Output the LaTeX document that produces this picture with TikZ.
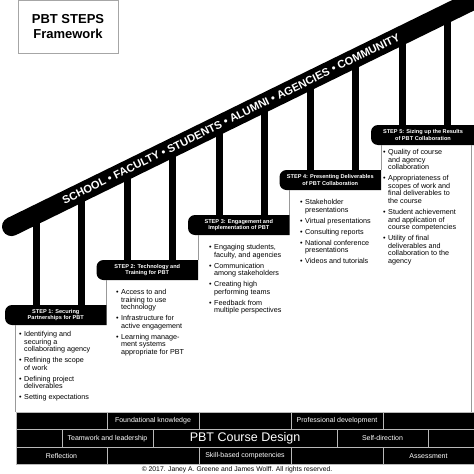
\documentclass[tikz,border=0pt]{standalone}
\usepackage{fontspec}
\setmainfont{Liberation Sans}

\begin{document}
\begin{tikzpicture}[x=1pt,y=-1pt]
    \tikzset{RailStyle/.style = {line width=19pt, line cap=round},
        PostStyle/.style = {fill=black},
        HeadStyle/.style = {fill=black, rounded corners=7pt},
        StepStyle/.style = {text=white, align=center, inner sep=0pt,
            font=\bfseries\fontsize{5.6}{6.6}\selectfont},
        ListStyle/.style = {anchor=north west, inner sep=0pt,
            font=\fontsize{7.2}{7.6}\selectfont},
        BoxStyle/.style = {draw=gray!80, line width=0.8pt},
        CellStyle/.style = {draw=gray!55, fill=black, text=white,
            line width=0.7pt, minimum height=17.5pt, inner sep=0pt,
            font=\fontsize{7}{8}\selectfont}}
    \useasboundingbox (0,0) rectangle (474,474);
    % title
    \node[draw=gray!70, minimum width=100pt, minimum height=53pt, align=center,
        font=\bfseries\fontsize{13}{15}\selectfont] (T) at (68,26.5) {PBT STEPS\\Framework};
    % posts
    \fill[PostStyle] (32.5,214) rectangle (39.5,305);
    \fill[PostStyle] (77.5,192) rectangle (84.5,305);
    \fill[PostStyle] (124,169) rectangle (131,260);
    \fill[PostStyle] (169,147) rectangle (176,260);
    \fill[PostStyle] (215.5,124) rectangle (222.5,215);
    \fill[PostStyle] (260.5,102) rectangle (267.5,215);
    \fill[PostStyle] (307,79) rectangle (314,170);
    \fill[PostStyle] (352,57) rectangle (359,170);
    \fill[PostStyle] (398.5,35) rectangle (405.5,125);
    \fill[PostStyle] (443.5,13) rectangle (450.5,125);
    % rail
    \draw[RailStyle] (11.5,226.6) -- (500,-12.8);
    \node[text=white, rotate=26.1, font=\bfseries\fontsize{11}{12}\selectfont] (R) at (231,119)
        {SCHOOL \textbullet{} FACULTY \textbullet{} STUDENTS \textbullet{} ALUMNI \textbullet{} AGENCIES \textbullet{} COMMUNITY};
    % step headers
    \fill[HeadStyle] (106.5,305) -- (5,305) -- (5,325) -- (106.5,325);
    \node[StepStyle] (S1) at (55.75,315) {STEP 1: Securing\\Partnerships for PBT};
    \fill[HeadStyle] (198,260) -- (96.5,260) -- (96.5,280) -- (198,280);
    \node[StepStyle] (S2) at (147.25,270) {STEP 2: Technology and\\Training for PBT};
    \fill[HeadStyle] (289.5,215) -- (188,215) -- (188,235) -- (289.5,235);
    \node[StepStyle] (S3) at (238.75,225) {STEP 3: Engagement and\\Implementation of PBT};
    \fill[HeadStyle] (381,170) -- (279.5,170) -- (279.5,190) -- (381,190);
    \node[StepStyle] (S4) at (330.25,180) {STEP 4: Presenting Deliverables\\of PBT Collaboration};
    \fill[HeadStyle] (476,125) -- (371,125) -- (371,145) -- (476,145);
    \node[StepStyle] (S5) at (423,135) {STEP 5: Sizing up the Results\\of PBT Collaboration};
    % box lines
    \draw[BoxStyle] (15,325) -- (15,412);
    \draw[BoxStyle] (106.5,280) -- (106.5,305);
    \draw[BoxStyle] (198,235) -- (198,260);
    \draw[BoxStyle] (289.5,190) -- (289.5,215);
    \draw[BoxStyle] (381,145) -- (381,170);
    \draw[BoxStyle] (471,145) -- (471,412);
    % lists
    \node[ListStyle] (L1) at (19,331) {\begin{tabular}{@{}l@{\hspace{2.5pt}}l@{}}
        \textbullet & Identifying and\\ & securing a\\ & collaborating agency\\[3.4pt]
        \textbullet & Refining the scope\\ & of work\\[3.4pt]
        \textbullet & Defining project\\ & deliverables\\[3.4pt]
        \textbullet & Setting expectations
        \end{tabular}};
    \node[ListStyle] (L2) at (116,289) {\begin{tabular}{@{}l@{\hspace{2.5pt}}l@{}}
        \textbullet & Access to and\\ & training to use\\ & technology\\[3.4pt]
        \textbullet & Infrastructure for\\ & active engagement\\[3.4pt]
        \textbullet & Learning manage-\\ & ment systems\\ & appropriate for PBT
        \end{tabular}};
    \node[ListStyle] (L3) at (209,244) {\begin{tabular}{@{}l@{\hspace{2.5pt}}l@{}}
        \textbullet & Engaging students,\\ & faculty, and agencies\\[3.4pt]
        \textbullet & Communication\\ & among stakeholders\\[3.4pt]
        \textbullet & Creating high\\ & performing teams\\[3.4pt]
        \textbullet & Feedback from\\ & multiple perspectives
        \end{tabular}};
    \node[ListStyle] (L4) at (300,199) {\begin{tabular}{@{}l@{\hspace{2.5pt}}l@{}}
        \textbullet & Stakeholder\\ & presentations\\[3.4pt]
        \textbullet & Virtual presentations\\[3.4pt]
        \textbullet & Consulting reports\\[3.4pt]
        \textbullet & National conference\\ & presentations\\[3.4pt]
        \textbullet & Videos and tutorials
        \end{tabular}};
    \node[ListStyle] (L5) at (383,149) {\begin{tabular}{@{}l@{\hspace{2.5pt}}l@{}}
        \textbullet & Quality of course\\ & and agency\\ & collaboration\\[3.4pt]
        \textbullet & Appropriateness of\\ & scopes of work and\\ & final deliverables to\\ & the course\\[3.4pt]
        \textbullet & Student achievement\\ & and application of\\ & course competencies\\[3.4pt]
        \textbullet & Utility of final\\ & deliverables and\\ & collaboration to the\\ & agency
        \end{tabular}};
    % course design strip
    \node[CellStyle, minimum width=91pt] (C11) at (61.5,420.75) {};
    \node[CellStyle, minimum width=92pt] (C12) at (153,420.75) {Foundational knowledge};
    \node[CellStyle, minimum width=92pt] (C13) at (245,420.75) {};
    \node[CellStyle, minimum width=92pt] (C14) at (337,420.75) {Professional development};
    \node[CellStyle, minimum width=91pt] (C15) at (428.5,420.75) {};
    \node[CellStyle, minimum width=46pt] (C21) at (39,438.25) {};
    \node[CellStyle, minimum width=91pt] (C22) at (107.5,438.25) {Teamwork and leadership};
    \node[CellStyle, minimum width=184pt, font=\fontsize{12.5}{14}\selectfont] (C23) at (245,438.25) {PBT Course Design};
    \node[CellStyle, minimum width=91pt] (C24) at (382.5,438.25) {Self-direction};
    \node[CellStyle, minimum width=46pt] (C25) at (451,438.25) {};
    \node[CellStyle, minimum width=91pt] (C31) at (61.5,455.75) {Reflection};
    \node[CellStyle, minimum width=92pt] (C32) at (153,455.75) {};
    \node[CellStyle, minimum width=92pt] (C33) at (245,455.75) {Skill-based competencies};
    \node[CellStyle, minimum width=92pt] (C34) at (337,455.75) {};
    \node[CellStyle, minimum width=91pt] (C35) at (428.5,455.75) {Assessment};
    \node[anchor=base, font=\fontsize{6.8}{8}\selectfont] (CR) at (237,471.8)
        {\textcopyright{} 2017. Janey A. Greene and James Wolff. All rights reserved.};
\end{tikzpicture}
\end{document}
